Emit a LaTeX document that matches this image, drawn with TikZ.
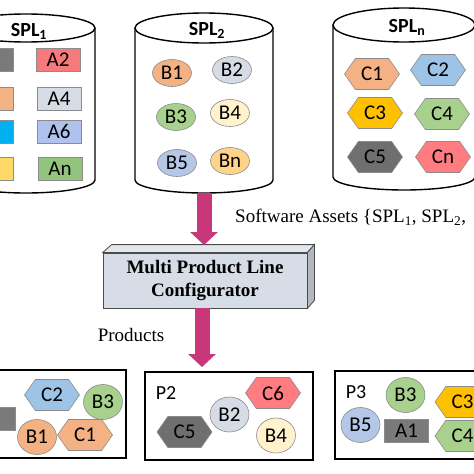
\documentclass[tikz,border=0pt]{standalone}
\usepackage{fontspec}
\setmainfont{Liberation Serif}
\setsansfont{Carlito}
\usetikzlibrary{shapes.geometric,shapes.symbols,arrows.meta}

\definecolor{grayA}{HTML}{7A7A7A}
\definecolor{redA}{HTML}{F47A7C}
\definecolor{orangeA}{HTML}{F4B183}
\definecolor{lightA}{HTML}{D6DCE5}
\definecolor{cyanA}{HTML}{00B0F0}
\definecolor{lavA}{HTML}{B0C1EE}
\definecolor{yellowA}{HTML}{FFD966}
\definecolor{greenA}{HTML}{93C47D}
\definecolor{greenB}{HTML}{A9D18E}
\definecolor{creamB}{HTML}{FFF2CC}
\definecolor{blueB}{HTML}{B4C7E7}
\definecolor{goldB}{HTML}{FFD48A}
\definecolor{blueC}{HTML}{9DC3E6}
\definecolor{goldC}{HTML}{FFC000}
\definecolor{grayC}{HTML}{6F6F6F}
\definecolor{redC}{HTML}{FF7C80}
\definecolor{flowpink}{HTML}{C8377A}
\definecolor{cfgfill}{HTML}{D7DDE7}

\tikzset{
  asset/.style={draw=black!45, line width=0.6pt, inner sep=0pt, font=\sffamily\fontsize{21}{21}\selectfont},
  rectasset/.style={asset, rectangle, minimum width=44pt, minimum height=23pt},
  ovalasset/.style={asset, ellipse, minimum width=39pt, minimum height=27pt},
  prodoval/.style={ovalasset, minimum height=35pt},
  hexasset/.style={asset, signal, signal to=west and east, signal pointer angle=110, minimum width=55pt, minimum height=31pt},
  splabel/.style={inner sep=0pt, font=\sffamily\bfseries\fontsize{20}{20}\selectfont},
  cyl/.style={draw=black, line width=1.4pt, fill=white},
  prodbox/.style={draw=black, line width=1.4pt},
  plabel/.style={inner sep=0pt, font=\sffamily\fontsize{20}{20}\selectfont},
  cfgbox/.style={draw=black!70, line width=0.8pt, fill=cfgfill, minimum width=204pt, minimum height=55pt, align=center, inner sep=0pt, font=\bfseries\fontsize{19}{23}\selectfont},
  flow/.style={draw=flowpink, line width=15pt, -{Triangle[width=27pt,length=13pt]}},
  note/.style={inner sep=0pt, font=\fontsize{19}{19}\selectfont},
}

\begin{document}
\begin{tikzpicture}[x=1pt,y=1pt,yscale=-1]
\fill[white] (0,0) rectangle (474,474);
\useasboundingbox (0,0) rectangle (474,474);
\clip (0,0) rectangle (474,474);

%Shape: Cylinders
\foreach \cx/\rx/\yt/\ryt/\yb in {26/69/28/14/180, 204/69/28/15/180, 404/71/25/17/177}{
  \draw[cyl] (\cx-\rx,\yt) -- (\cx-\rx,\yb) arc (180:0:{\rx} and 13) -- (\cx+\rx,\yt) ;
  \draw[cyl] (\cx,\yt) ellipse ({\rx} and {\ryt}) ;
}
\coordinate (spl2bot) at (204,193);

% Text Node
\node[splabel] (spl1) at (29,31) {SPL\textsubscript{1}};
\node[splabel] (spl2) at (207,30) {SPL\textsubscript{2}};
\node[splabel] (spln) at (407,27) {SPL\textsubscript{n}};

%Shape: Assets of SPL1 (left column cut by the edge)
\foreach \n/\x/\y/\c in {A1/-9/60/grayA, A3/-9/98.5/orangeA, A5/-9/131.5/cyanA, A7/-9/168.5/yellowA}
  \node[rectasset, fill=\c] (\n) at (\x,\y) {};
\foreach \n/\x/\y/\c in {A2/58/60/redA, A4/59/98.5/lightA, A6/59/131.5/lavA, An/60/168.5/greenA}
  \node[rectasset, fill=\c] (\n) at (\x,\y) {\n};

%Shape: Assets of SPL2
\foreach \n/\x/\y/\c in {B1/172/73/orangeA, B2/232/70/lightA, B3/176/117/greenB, B4/230/113/creamB,
    B5/177/163/blueB, Bn/230/161/goldB}
  \node[ovalasset, fill=\c] (\n) at (\x,\y) {\n};

%Shape: Assets of SPLn
\foreach \n/\x/\y/\c in {C1/372/74/orangeA, C2/438/70/blueC, C3/375/113/goldC, C4/442/114/greenB,
    C5/375/157/grayC, Cn/443/157/redC}
  \node[hexasset, fill=\c] (\n) at (\x,\y) {\n};

%Shape: Configurator box
\node[cfgbox] (cfg) at (205,280.5) {Multi Product Line\\Configurator};
\draw[draw=black!70, line width=0.8pt, fill=cfgfill!70!white] (cfg.north west) -- ++(9,-8) -- ([shift={(7,-8)}]cfg.north east) -- (cfg.north east) -- cycle ;
\draw[draw=black!70, line width=0.8pt, fill=cfgfill!60!gray] (cfg.north east) -- ++(7,-8) -- ([shift={(7,-8)}]cfg.south east) -- (cfg.south east) -- cycle ;
\coordinate (cfgtop) at (204,245);
\coordinate (prodtip) at (202,367);

%Straight Lines
\draw[flow] (spl2bot) -- (cfgtop) ;
\draw[flow] (cfg.south -| prodtip) -- (prodtip) ;

% Text Node
\node[note, anchor=west] (assets) at (235,217) {Software Assets \{SPL\textsubscript{1}, SPL\textsubscript{2},};
\node[note] (products) at (131,335) {Products};

%Shape: Product boxes
\draw[prodbox] (-42,370) rectangle (126,458) ;
\draw[prodbox] (145,372) rectangle (313,460) ;
\draw[prodbox] (335,371) rectangle (503,459) ;

% Product P1
\node[rectasset, fill=grayA] (p1A1) at (-7,418.5) {};
\node[hexasset, fill=blueC] (p1C2) at (52,395) {C2};
\node[prodoval, fill=greenB] (p1B3) at (103,402) {B3};
\node[prodoval, fill=orangeA] (p1B1) at (37,437) {B1};
\node[hexasset, fill=orangeA] (p1C1) at (85,435) {C1};

% Product P2
\node[plabel] (p2) at (166,393) {P2};
\node[hexasset, fill=redC] (p2C6) at (273,393) {C6};
\node[prodoval, fill=lightA] (p2B2) at (229.5,414.5) {B2};
\node[hexasset, fill=grayC] (p2C5) at (184.5,432) {C5};
\node[prodoval, fill=creamB] (p2B4) at (276,435.5) {B4};

% Product P3
\node[plabel] (p3) at (356,392) {P3};
\node[prodoval, fill=greenB] (p3B3) at (405.5,395) {B3};
\node[hexasset, fill=goldC] (p3C3) at (462.5,402) {C3};
\node[prodoval, fill=blueB] (p3B5) at (360.5,425) {B5};
\node[rectasset, fill=grayA] (p3A1) at (406.5,431) {A1};
\node[hexasset, fill=greenB] (p3C4) at (462.5,436) {C4};

\end{tikzpicture}
\end{document}
